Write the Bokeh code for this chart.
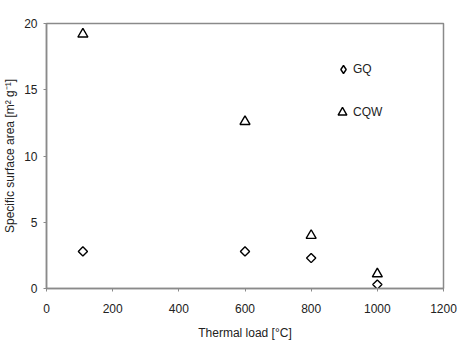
import math
from bokeh.plotting import figure
from bokeh.models import Range1d, Legend, LegendItem, FixedTicker
from bokeh.embed import file_html
from bokeh.resources import INLINE

thermal_gq = [110, 600, 800, 1000]
ssa_gq = [2.8, 2.8, 2.3, 0.3]
thermal_cqw = [110, 600, 800, 1000]
ssa_cqw = [19.2, 12.6, 4.0, 1.1]
x_ticks = [0, 200, 400, 600, 800, 1000, 1200]
y_ticks = [0, 5, 10, 15, 20]

FONT = "Liberation Sans"
GREY = "#8a8a8a"
TXT = "#222222"

p = figure(width=464, height=347, output_backend="svg", toolbar_location=None,
           x_range=Range1d(0, 1200), y_range=Range1d(0, 20),
           min_border_left=46, min_border_right=21, min_border_top=23, min_border_bottom=59)
p.xgrid.visible = False
p.ygrid.visible = False
p.outline_line_color = GREY
p.outline_line_width = 1.5

# diamond glyph used for the legend key (tiny, hidden below the rotated squares)
r_gq_key = p.scatter(thermal_gq, ssa_gq, marker="diamond", size=1, fill_color="white",
                     line_color="black", line_width=1.4)
r_gq = p.scatter(thermal_gq, ssa_gq, marker="square", angle=math.pi / 4, size=6.5,
                 fill_color="white", line_color="black", line_width=1.4)
r_cqw = p.scatter(thermal_cqw, ssa_cqw, marker="triangle", size=10, fill_color="white",
                  line_color="black", line_width=1.4)

for ax in (p.xaxis[0], p.yaxis[0]):
    ax.axis_line_color = GREY
    ax.axis_line_width = 1.5
    ax.major_tick_line_color = GREY
    ax.major_tick_in = 0
    ax.major_tick_out = 3
    ax.minor_tick_line_color = None
    ax.major_label_text_font = FONT
    ax.major_label_text_font_size = "12px"
    ax.major_label_text_color = TXT
    ax.axis_label_text_font = FONT
    ax.axis_label_text_font_size = "12px"
    ax.axis_label_text_font_style = "normal"
    ax.axis_label_text_color = TXT

p.xaxis.ticker = FixedTicker(ticks=x_ticks)
p.yaxis.ticker = FixedTicker(ticks=y_ticks)
p.xaxis.axis_label = "Thermal load [°C]"
p.yaxis.axis_label = "Specific surface area [m² g⁻¹]"
p.xaxis.major_label_standoff = 12
p.xaxis.axis_label_standoff = 10
p.yaxis.major_label_standoff = 6
p.yaxis.axis_label_standoff = 4

leg_common = dict(padding=0, margin=0, label_text_font=FONT, label_text_font_size="12px",
                  label_text_color=TXT, border_line_color=None, background_fill_alpha=0)
leg_gq = Legend(items=[LegendItem(label="GQ", renderers=[r_gq_key])],
                location=(287, 209), glyph_width=20, glyph_height=20, label_standoff=-9,
                **leg_common)
leg_cqw = Legend(items=[LegendItem(label="CQW", renderers=[r_cqw])],
                 location=(285, 165), glyph_width=22, glyph_height=22, label_standoff=-10,
                 **leg_common)
p.add_layout(leg_gq)
p.add_layout(leg_cqw)

open("out.html", "w").write(file_html(p, INLINE))
